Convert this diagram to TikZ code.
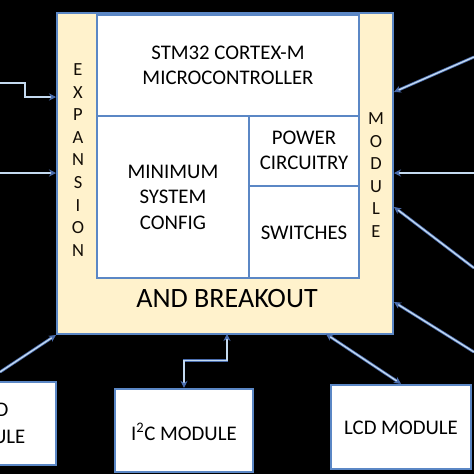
\documentclass[tikz,border=0pt]{standalone}
\usepackage{fontspec}
\setmainfont{Carlito}
\usetikzlibrary{arrows.meta}
\definecolor{beige}{HTML}{FFF2CC}
\definecolor{bblue}{HTML}{5B87C5}
\definecolor{linedark}{HTML}{4A6DAE}
\definecolor{linelight}{HTML}{C4DAF0}
\begin{document}
\begin{tikzpicture}[x=1pt,y=-1pt,
  box/.style={draw=bblue, line width=2.4pt, fill=white, inner sep=0pt},
  txt/.style={font=\fontsize{20.8}{25.5}\selectfont, align=center, text=black, inner sep=0pt},
  vtxt/.style={font=\fontsize{18.5}{22.6}\selectfont, align=center, text=black!90!brown, inner sep=0pt},
  conn/.style={draw=linedark, line width=0.8pt, double=linelight, double distance=1.3pt},
  tip/.style={-{Stealth[length=7pt,width=7pt]}},
  tips/.style={{Stealth[length=7pt,width=7pt]}-{Stealth[length=7pt,width=7pt]}}
]
\fill[black] (0,0) rectangle (474,474);
\useasboundingbox (0,0) rectangle (474,474);
% main boxes
\node[draw=bblue, line width=2pt, fill=beige, minimum width=336pt, minimum height=321pt] (outer) at (225,173.5) {};
\node[box, minimum width=262pt, minimum height=101pt] (stm) at (228,65.5) {};
\node[box, minimum width=152pt, minimum height=162pt] (msc) at (173,197) {};
\node[box, minimum width=110pt, minimum height=70pt] (pwr) at (304,151) {};
\node[box, minimum width=110pt, minimum height=92pt] (sw) at (304,232) {};
\node[txt] (stmt) at (stm.center) {STM32 CORTEX-M\\MICROCONTROLLER};
\node[txt] (msct) at (msc.center) {MINIMUM\\SYSTEM\\CONFIG};
\node[txt] (pwrt) at (304,150.5) {POWER\\CIRCUITRY};
\node[txt] (swt) at (304,233) {SWITCHES};
\node[txt, font=\fontsize{28}{32}\selectfont] (brk) at (227,299) {AND BREAKOUT};
\node[vtxt] (exp) at (78,160) {E\\X\\P\\A\\N\\S\\I\\O\\N};
\node[vtxt] (mod) at (376,175) {M\\O\\D\\U\\L\\E};
% bottom modules
\node[box, minimum width=140pt, minimum height=83pt] (ledm) at (-14,423.5) {};
\node[txt, anchor=east] (ledt1) at (8.5,410) {D};
\node[txt, anchor=east] (ledt2) at (25.5,437) {ULE};
\node[box, minimum width=138pt, minimum height=83pt] (i2c) at (184,430.5) {};
\node[txt] (i2ct) at (184,432) {I\textsuperscript{2}C MODULE};
\node[box, minimum width=140pt, minimum height=84pt] (lcd) at (401,427) {};
\node[txt] (lcdt) at (401,428) {LCD MODULE};
% free ends
\coordinate (L1) at (0,83);
\coordinate (L2) at (0,173);
\coordinate (L3) at (0,372);
\coordinate (R1) at (474,57);
\coordinate (R2) at (474,173);
\coordinate (R3) at (474,268);
\coordinate (R4) at (474,352);
\coordinate (B2) at (227,334);
\coordinate (B3) at (326,334);
% connectors
\draw[conn, tip] (L1) -- ++(25,0) -- ++(0,14) -- (outer.west |- 0,97);
\draw[conn, tip] (L2) -- (outer.west |- L2);
\draw[conn, tip] (L3) -- (outer.south west);
\draw[conn, tips] (i2c.north) -- ++(0,-27) -| (B2);
\draw[conn, tips] (B3) -- (lcd.north);
\draw[conn, tip] (R1) -- (outer.east |- 0,92);
\draw[conn, tip] (R2) -- (outer.east |- R2);
\draw[conn, tip] (R3) -- (outer.east |- 0,207);
\draw[conn, tip] (R4) -- (outer.east |- 0,302);
\end{tikzpicture}
\end{document}
